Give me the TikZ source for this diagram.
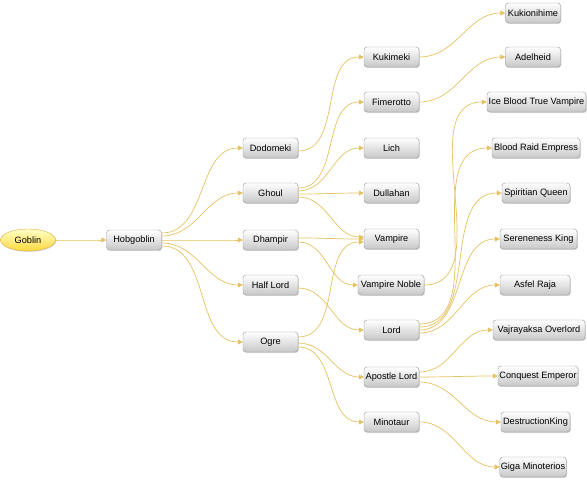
\documentclass[tikz,border=0pt]{standalone}
\usepackage{fontspec}
\setmainfont{Liberation Sans}
\usetikzlibrary{arrows.meta,positioning,shapes,shapes.geometric,shadows}
\definecolor{linkc}{RGB}{228,193,98}
\definecolor{boxline}{RGB}{150,150,150}
\definecolor{gobline}{RGB}{214,176,62}
\begin{document}
\begin{tikzpicture}[x=1pt,y=-1pt]
\tikzstyle{tb}=[draw=boxline, rounded corners=3pt, minimum width=55pt,
  minimum height=20pt, inner xsep=1pt, align=center,
  top color=white, bottom color=black!22,
  font=\fontsize{9.2}{11}\selectfont,
  drop shadow={shadow xshift=0.8pt, shadow yshift=-0.9pt, opacity=0.35}]
\tikzstyle{gb}=[ellipse, draw=gobline, minimum width=55pt, minimum height=22pt,
  inner sep=0pt, top color=yellow!22, bottom color=yellow!60!orange!75,
  font=\fontsize{9.2}{11}\selectfont,
  drop shadow={shadow xshift=0.8pt, shadow yshift=-0.9pt, opacity=0.3}]
\tikzstyle{link}=[-{Triangle[length=5pt,width=5pt]}, linkc, line width=0.7pt,
  out=0, in=180]
\useasboundingbox (0,0) rectangle (587,481);
% first two stages
\node[gb] (goblin) at (28,240) {Goblin};
\node[tb] (hobgoblin) at (134,240) {Hobgoblin};
% third stage
\node[tb] (dodomeki) at (270.5,148) {Dodomeki};
\node[tb] (ghoul) at (270.5,193) {Ghoul};
\node[tb] (dhampir) at (270.5,240) {Dhampir};
\node[tb] (halflord) at (270.5,285) {Half Lord};
\node[tb] (ogre) at (270.5,342) {Ogre};
% fourth stage
\node[tb] (kukimeki) at (391.5,57) {Kukimeki};
\node[tb] (fimerotto) at (391.5,102) {Fimerotto};
\node[tb] (lich) at (391.5,148) {Lich};
\node[tb] (dullahan) at (391.5,193) {Dullahan};
\node[tb] (vampire) at (391.5,239) {Vampire};
\node[tb, minimum width=66pt] (vnoble) at (391,285) {Vampire Noble};
\node[tb] (lord) at (391.5,330) {Lord};
\node[tb] (apostle) at (391.5,377) {Apostle Lord};
\node[tb] (minotaur) at (391.5,422) {Minotaur};
% fifth stage
\node[tb] (kukionihime) at (533,13) {Kukionihime};
\node[tb] (adelheid) at (533,57) {Adelheid};
\node[tb, minimum width=99pt] (icevamp) at (536.5,102) {Ice Blood True Vampire};
\node[tb, minimum width=88pt] (bloodraid) at (536,148) {Blood Raid Empress};
\node[tb, minimum width=68pt] (spiritian) at (536,193) {Spiritian Queen};
\node[tb, minimum width=77pt] (sereneness) at (538.5,239) {Sereneness King};
\node[tb, minimum width=70pt] (asfel) at (535,285) {Asfel Raja};
\node[tb, minimum width=92pt] (vajrayaksa) at (539,330) {Vajrayaksa Overlord};
\node[tb, minimum width=80pt] (conquest) at (538,376) {Conquest Emperor};
\node[tb, minimum width=69pt] (destruction) at (535.5,422) {DestructionKing};
\node[tb, minimum width=60pt] (gigamino) at (533,467) {Giga Minoterios};
% links
\draw[link] (goblin.east) to (hobgoblin.west);
\draw[link] ([yshift=7pt]hobgoblin.east) to (dodomeki.west);
\draw[link] ([yshift=4pt]hobgoblin.east) to (ghoul.west);
\draw[link] (hobgoblin.east) to (dhampir.west);
\draw[link] ([yshift=-3pt]hobgoblin.east) to (halflord.west);
\draw[link] ([yshift=-6pt]hobgoblin.east) to (ogre.west);
\draw[link] ([yshift=-3pt]dodomeki.east) to (kukimeki.west);
\draw[link] ([yshift=5pt]ghoul.east) to (fimerotto.west);
\draw[link] ([yshift=2pt]ghoul.east) to (lich.west);
\draw[link] ([yshift=-1pt]ghoul.east) to (dullahan.west);
\draw[link] ([yshift=-4pt]ghoul.east) to ([yshift=2pt]vampire.west);
\draw[link] ([yshift=2pt]dhampir.east) to (vampire.west);
\draw[link] ([yshift=-2pt]dhampir.east) to (vnoble.west);
\draw[link] ([yshift=-3pt]halflord.east) to (lord.west);
\draw[link] ([yshift=5pt]ogre.east) to ([yshift=-3pt]vampire.west);
\draw[link] ([yshift=-1pt]ogre.east) to (apostle.west);
\draw[link] ([yshift=-5pt]ogre.east) to (minotaur.west);
\draw[link] (kukimeki.east) to (kukionihime.west);
\draw[link] (fimerotto.east) to (adelheid.west);
\draw[link] (vnoble.east) to (icevamp.west);
\draw[link] ([yshift=6pt]lord.east) to (bloodraid.west);
\draw[link] ([yshift=3pt]lord.east) to (spiritian.west);
\draw[link] ([yshift=0pt]lord.east) to (sereneness.west);
\draw[link] ([yshift=-3pt]lord.east) to (asfel.west);
\draw[link] ([yshift=5pt]apostle.east) to (vajrayaksa.west);
\draw[link] (apostle.east) to (conquest.west);
\draw[link] ([yshift=-5pt]apostle.east) to (destruction.west);
\draw[link] (minotaur.east) to (gigamino.west);
\end{tikzpicture}
\end{document}
